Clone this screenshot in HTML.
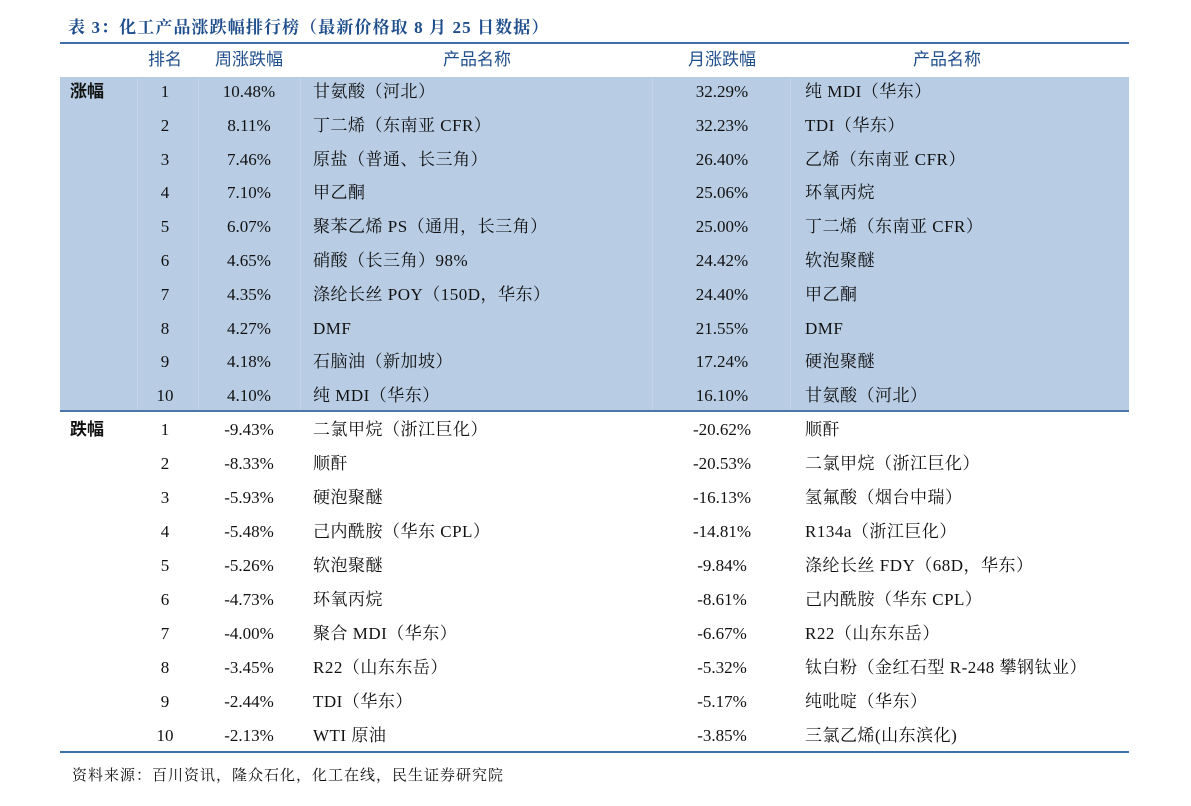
<!DOCTYPE html>
<html><head><meta charset="utf-8"><style>
body{margin:0;width:1191px;height:806px;background:#fff;position:relative;overflow:hidden;font-family:"Liberation Serif","Noto Serif CJK SC",serif;color:#111;}
.a{position:absolute;white-space:nowrap;font-size:17px;line-height:20px}
.n{font-size:17px;letter-spacing:0.5px}
.c{transform:translateX(-50%)}
.h{color:#1f4e8c;font-family:"Liberation Sans","Noto Sans CJK SC",sans-serif;font-size:17px}
.t{color:#1f4e8c;font-weight:bold;font-size:17px;letter-spacing:1.1px;font-family:"Liberation Serif","Noto Serif CJK SC",serif}
.ln{position:absolute;left:60px;width:1069px}
.v{position:absolute;top:78px;height:332px;width:1px;background:#c3d4e9}
</style></head><body>
<div class="a t" style="left:68px;top:18px">表 3：化工产品涨跌幅排行榜（最新价格取 8 月 25 日数据）</div>
<div class="ln" style="top:42px;height:2px;background:#3f6fa8"></div>
<div class="ln" style="top:77px;height:333px;background:#b8cce4"></div>
<div class="ln" style="top:410px;height:2px;background:#4a78ad"></div>
<div class="ln" style="top:751px;height:2px;background:#3f6fa8"></div>
<div class="v" style="left:137px"></div><div class="v" style="left:198px"></div><div class="v" style="left:300px"></div><div class="v" style="left:652px"></div><div class="v" style="left:790px"></div>
<div class="a h c" style="left:165px;top:50px">排名</div>
<div class="a h c" style="left:249px;top:50px">周涨跌幅</div>
<div class="a h c" style="left:477px;top:50px">产品名称</div>
<div class="a h c" style="left:722px;top:50px">月涨跌幅</div>
<div class="a h c" style="left:947px;top:50px">产品名称</div>
<div class="a" style="left:70px;top:82px;font-family:'Liberation Sans','Noto Sans CJK SC',sans-serif;font-weight:bold;font-size:17px">涨幅</div>
<div class="a" style="left:70px;top:420px;font-family:'Liberation Sans','Noto Sans CJK SC',sans-serif;font-weight:bold;font-size:17px">跌幅</div>
<div id="rows"></div>
<div class="a" style="left:72px;top:766px;font-size:15px;letter-spacing:1px">资料来源：百川资讯，隆众石化，化工在线，民生证券研究院</div>
<script>
var up=[["10.48%","甘氨酸（河北）","32.29%","纯 MDI（华东）"],["8.11%","丁二烯（东南亚 CFR）","32.23%","TDI（华东）"],["7.46%","原盐（普通、长三角）","26.40%","乙烯（东南亚 CFR）"],["7.10%","甲乙酮","25.06%","环氧丙烷"],["6.07%","聚苯乙烯 PS（通用，长三角）","25.00%","丁二烯（东南亚 CFR）"],["4.65%","硝酸（长三角）98%","24.42%","软泡聚醚"],["4.35%","涤纶长丝 POY（150D，华东）","24.40%","甲乙酮"],["4.27%","DMF","21.55%","DMF"],["4.18%","石脑油（新加坡）","17.24%","硬泡聚醚"],["4.10%","纯 MDI（华东）","16.10%","甘氨酸（河北）"]];
var dn=[["-9.43%","二氯甲烷（浙江巨化）","-20.62%","顺酐"],["-8.33%","顺酐","-20.53%","二氯甲烷（浙江巨化）"],["-5.93%","硬泡聚醚","-16.13%","氢氟酸（烟台中瑞）"],["-5.48%","己内酰胺（华东 CPL）","-14.81%","R134a（浙江巨化）"],["-5.26%","软泡聚醚","-9.84%","涤纶长丝 FDY（68D，华东）"],["-4.73%","环氧丙烷","-8.61%","己内酰胺（华东 CPL）"],["-4.00%","聚合 MDI（华东）","-6.67%","R22（山东东岳）"],["-3.45%","R22（山东东岳）","-5.32%","钛白粉（金红石型 R-248 攀钢钛业）"],["-2.44%","TDI（华东）","-5.17%","纯吡啶（华东）"],["-2.13%","WTI 原油","-3.85%","三氯乙烯(山东滨化)"]];
var h="";
function add(arr,y0,dy){arr.forEach(function(r,i){var y=Math.round(y0+i*dy);
h+='<div class="a c" style="left:165px;top:'+y+'px">'+(i+1)+'</div>';
h+='<div class="a c" style="left:249px;top:'+y+'px">'+r[0]+'</div>';
h+='<div class="a n" style="left:313px;top:'+y+'px">'+r[1]+'</div>';
h+='<div class="a c" style="left:722px;top:'+y+'px">'+r[2]+'</div>';
h+='<div class="a n" style="left:805px;top:'+y+'px">'+r[3]+'</div>';});}
add(up,82,33.8);add(dn,420,34);
document.getElementById("rows").innerHTML=h;
</script>
</body></html>
